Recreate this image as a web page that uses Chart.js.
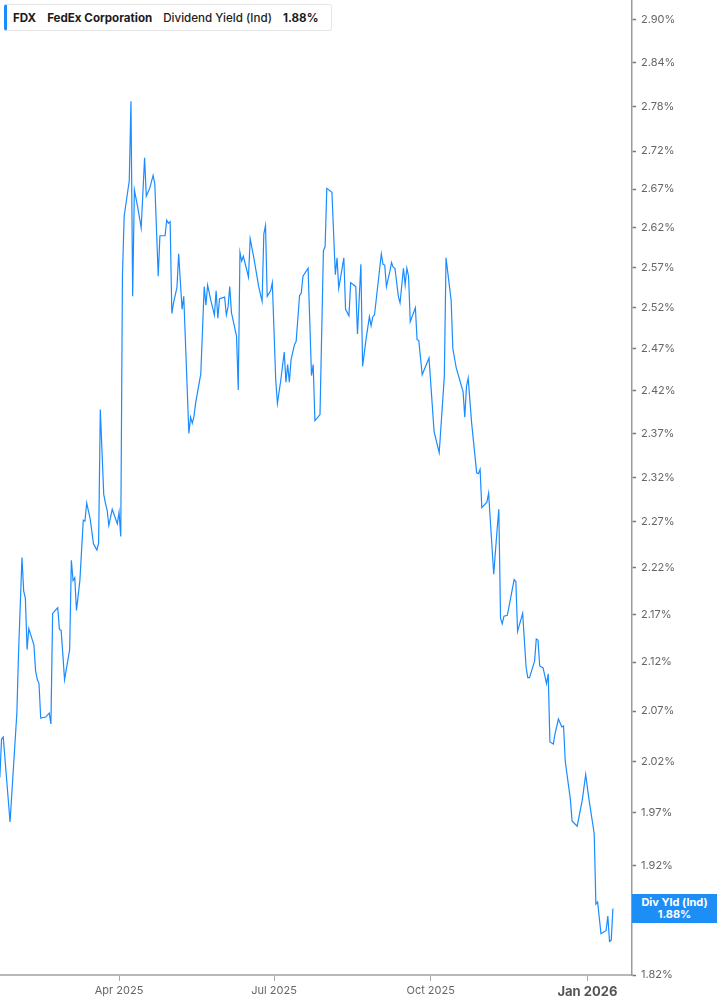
<!DOCTYPE html>
<html lang="en">
<head>
    <meta charset="UTF-8">
    <title>FDX Dividend Yield (Ind)</title>
    <style>
        body {
          margin: 0;
          background: #fff;
          font-family: Inter, Arial, sans-serif;
        }

        .wrap {
          position: relative;
          width: 717px;
          height: 1005px;
        }

        .legend {
          position: absolute;
          left: 4px;
          top: 4px;
          height: 25px;
          padding: 0 13px 0 6px;
          border: 1px solid #e6e6e6;
          border-left: 3px solid #1a8cff;
          border-radius: 3px;
          background: #fff;
          display: flex;
          align-items: center;
          font-size: 11.6px;
          color: #1c1c1c;
          white-space: nowrap;
        }

        .legend span + span { margin-left: 11px; }
        .legend .b { font-weight: 700; }
        .legend .m { font-weight: 500; }

        .lastval {
          position: absolute;
          left: 632px;
          width: 85px;
          height: 29px;
          background: #1e8ef7;
          color: #fff;
          font-size: 11px;
          font-weight: 700;
          line-height: 12px;
          display: flex;
          flex-direction: column;
          justify-content: center;
          align-items: center;
        }
    </style>
</head>
<body>
<div class="wrap">
    <canvas id="yieldChart"></canvas>
    <div class="legend">
        <span class="b">FDX</span>
        <span class="b">FedEx Corporation</span>
        <span class="m">Dividend Yield (Ind)</span>
        <span class="b">1.88%</span>
    </div>
    <div id="lastVal" class="lastval"><div>Div Yld (Ind)</div><div>1.88%</div></div>
</div>

<script src="https://cdn.jsdelivr.net/npm/chart.js"></script>
<script>
    // days since 2025-01-01
    const days = [20,21,22,26,30,31,33,34,35,36,37,40,41,42,43,44,47,49,50,51,
      54,55,56,57,58,61,62,63,64,65,67,69,70,71,73,75,77,78,79,81,
      82,83,84,86,89,90,91,92,93,96,97,98,99,101,103,105,106,108,110,111,
      113,114,117,118,119,120,121,122,124,125,127,128,131,132,133,134,135,138,140,141,
      142,144,146,147,148,149,152,153,154,155,156,159,160,161,162,163,166,167,169,172,
      174,175,176,177,179,180,182,183,185,187,188,189,190,191,193,194,196,197,198,201,
      203,204,205,208,210,211,212,215,217,218,219,222,223,225,226,229,230,232,233,235,
      237,238,239,240,244,245,246,247,249,250,251,252,254,255,257,258,259,260,261,264,
      265,266,268,272,275,278,281,282,285,286,288,292,293,294,295,297,300,301,302,303,
      306,307,310,312,313,314,315,316,318,320,322,323,324,327,329,330,331,334,335,336,
      337,339,341,342,343,345,346,348,350,351,352,355,356,359,362,364,366,369,370,371,
      373,376,377,378,379,380];

    // dividend yield, %
    const yieldPct = [2.004,2.042,2.044,1.961,2.068,2.130,2.231,2.195,2.187,2.133,2.155,2.138,2.111,2.102,2.098,2.063,2.064,2.068,2.057,2.171,
      2.177,2.154,2.153,2.128,2.102,2.133,2.228,2.206,2.209,2.174,2.206,2.272,2.271,2.291,2.274,2.246,2.239,2.247,2.398,2.301,
      2.291,2.283,2.266,2.284,2.268,2.281,2.254,2.560,2.635,2.681,2.787,2.534,2.669,2.646,2.620,2.711,2.661,2.671,2.688,2.677,
      2.559,2.610,2.610,2.630,2.626,2.628,2.513,2.526,2.545,2.587,2.518,2.534,2.370,2.389,2.382,2.390,2.406,2.440,2.546,2.523,
      2.548,2.528,2.511,2.541,2.507,2.531,2.533,2.511,2.521,2.546,2.514,2.485,2.421,2.589,2.578,2.584,2.558,2.606,2.584,2.546,
      2.528,2.612,2.623,2.534,2.541,2.551,2.433,2.405,2.433,2.466,2.430,2.451,2.430,2.457,2.475,2.479,2.535,2.538,2.559,2.569,
      2.438,2.451,2.385,2.392,2.591,2.596,2.671,2.666,2.561,2.582,2.544,2.582,2.518,2.510,2.551,2.546,2.488,2.574,2.449,2.481,
      2.509,2.498,2.509,2.511,2.587,2.574,2.573,2.546,2.565,2.576,2.570,2.569,2.534,2.526,2.569,2.548,2.569,2.559,2.503,2.520,
      2.481,2.480,2.439,2.459,2.372,2.348,2.437,2.582,2.529,2.470,2.447,2.419,2.389,2.425,2.435,2.383,2.325,2.324,2.329,2.286,
      2.292,2.302,2.213,2.262,2.284,2.166,2.160,2.168,2.169,2.188,2.207,2.205,2.152,2.171,2.115,2.104,2.104,2.121,2.144,2.143,
      2.116,2.114,2.098,2.108,2.039,2.037,2.047,2.062,2.054,2.055,2.020,1.983,1.962,1.957,1.982,2.007,1.982,1.950,1.884,1.886,
      1.857,1.860,1.873,1.850,1.851,1.880];

    const yTicks = [1.82,1.87,1.92,1.97,2.02,2.07,2.12,2.17,2.22,2.27,2.32,2.37,2.42,2.47,2.52,2.57,2.62,2.67,2.72,2.78,2.84,2.90];
    const xTickDays = [90, 181, 273, 365];
    const xTickLabels = ['Apr 2025', 'Jul 2025', 'Oct 2025', 'Jan 2026'];

    const FONT = 'Inter, Arial, sans-serif';

    // keep the blue last-value box next to the last point
    const lastValBox = {
      id: 'lastValBox',
      afterDraw(chart) {
        const y = chart.scales.y.getPixelForValue(yieldPct[yieldPct.length - 1]);
        document.getElementById('lastVal').style.top = (y - 14.5) + 'px';
      }
    };

    const ctx = document.getElementById('yieldChart').getContext('2d');
    const chart = new Chart(ctx, {
      type: 'line',
      data: {
        datasets: [{
          data: days.map((d, i) => ({ x: d, y: yieldPct[i] })),
          borderColor: '#1a8cff',
          borderWidth: 1.2,
          pointRadius: 0,
          tension: 0,
          fill: false
        }]
      },
      options: {
        animation: false,
        responsive: true,
        maintainAspectRatio: false,
        layout: { padding: 0 },
        plugins: {
          legend: { display: false },
          tooltip: { enabled: false }
        },
        scales: {
          x: {
            type: 'linear',
            min: 20.1,
            max: 391.2,
            afterBuildTicks: a => { a.ticks = xTickDays.map(v => ({ value: v })); },
            afterFit: a => { a.height = 30; a.paddingLeft = 0; a.paddingRight = 0; },
            grid: { drawOnChartArea: false, drawTicks: true, tickLength: 6, tickColor: '#aaa', tickWidth: 1 },
            border: { display: true, color: '#b8b8b8', width: 2 },
            ticks: {
              autoSkip: false,
              maxRotation: 0,
              padding: 3,
              color: c => (c.tick && c.tick.value === 365) ? '#555' : '#666',
              font: c => (c.tick && c.tick.value === 365)
                ? { family: FONT, size: 13, weight: 'bold' }
                : { family: FONT, size: 11 },
              callback: (v, i) => xTickLabels[i]
            }
          },
          y: {
            type: 'logarithmic',
            position: 'right',
            min: 1.82,
            max: 2.928,
            afterBuildTicks: a => { a.ticks = yTicks.map(v => ({ value: v })); },
            afterFit: a => { a.width = 85; a.paddingTop = 0; a.paddingBottom = 0; },
            grid: { drawOnChartArea: false, drawTicks: true, tickLength: 4, tickColor: '#777', tickWidth: 1.5 },
            border: { display: true, color: '#9a9a9a', width: 1.5 },
            ticks: {
              padding: 5,
              color: '#666',
              font: { family: FONT, size: 11 },
              callback: v => Number(v).toFixed(2) + '%'
            }
          }
        }
      },
      plugins: [lastValBox]
    });
</script>
</body>
</html>
